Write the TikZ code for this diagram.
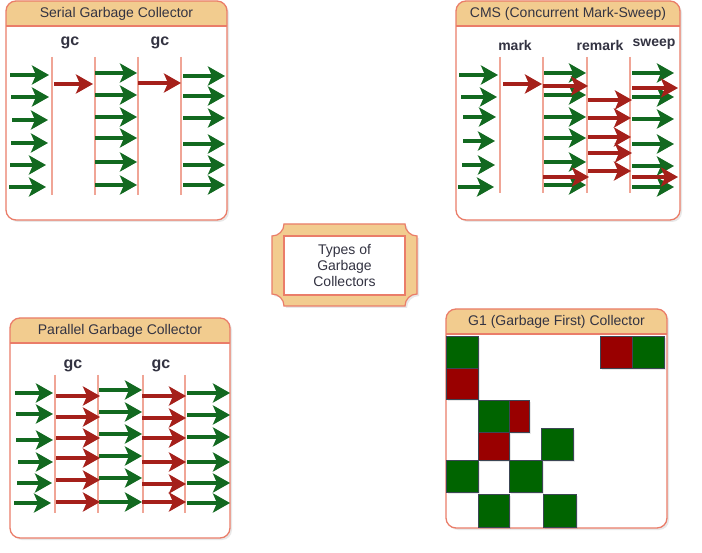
\documentclass[tikz,border=0pt]{standalone}
\usepackage{fontspec}
\setmainfont{Liberation Sans}
\usetikzlibrary{arrows.meta,shadows}

\definecolor{hdrfill}{RGB}{242,204,143}
\definecolor{boxline}{RGB}{234,125,105}
\definecolor{laneline}{RGB}{240,165,150}
\definecolor{livegreen}{RGB}{18,105,32}
\definecolor{deadred}{RGB}{165,32,26}
\definecolor{blockgreen}{RGB}{0,100,0}
\definecolor{blockred}{RGB}{153,0,0}
\definecolor{blockedge}{RGB}{60,70,85}
\definecolor{txtgray}{RGB}{51,51,66}

\begin{document}
\begin{tikzpicture}[x=1pt,y=-1pt,
  every node/.style={text=txtgray,font=\fontsize{14}{16}\selectfont},
  boxframe/.style={boxline,line width=1.3pt,rounded corners=10pt},
  softshadow/.style={drop shadow={shadow xshift=2pt,shadow yshift=-2pt,opacity=.18,fill=gray}},
  lane/.style={laneline,line width=1.5pt},
  live/.style={livegreen,line width=3.2pt,-{Stealth[length=17pt,width=19pt,inset=4pt]}},
  dead/.style={deadred,line width=3.2pt,-{Stealth[length=17pt,width=19pt,inset=4pt]}},
  phase/.style={font=\bfseries\fontsize{14}{16}\selectfont},
  gclabel/.style={font=\bfseries\fontsize{16}{18}\selectfont},
  region/.style={draw=blockedge,line width=0.8pt,softshadow}]
  \useasboundingbox (0,0) rectangle (702,553);

  % the four collector panels
  \foreach \nm/\xa/\ya/\xb/\yb/\ttl in {serial/6/1/227/220/{Serial Garbage Collector},
      cms/456/1/680/220/{CMS (Concurrent Mark-Sweep)},
      parallel/10/318/230/538/{Parallel Garbage Collector},
      gfirst/446/309/667/528/{G1 (Garbage First) Collector}} {
    \fill[white,rounded corners=10pt,softshadow] (\xa,\ya) rectangle (\xb,\yb);
    \fill[hdrfill] (\xa,\ya+25) -- (\xa,\ya+10) arc(180:270:10) -- (\xb-10,\ya)
      arc(270:360:10) -- (\xb,\ya+25) -- cycle;
    \draw[boxline,line width=1.3pt] (\xa,\ya+25) -- (\xb,\ya+25);
    \draw[boxframe] (\xa,\ya) rectangle (\xb,\yb);
    \node (\nm) at ({(\xa+\xb)/2},\ya+13) {\ttl};
  }

  % serial
  \foreach \x in {52,95,138,181}
    \draw[lane] (\x,57) -- (\x,195);
  \node[gclabel] (serial-gc1) at (70,43) {gc};
  \node[gclabel] (serial-gc2) at (160,43) {gc};
  \foreach \xa/\xb/\y in {10/49/75,11/49/97,12/48/120,11/48/143,10/46/165,9/46/187,
      95/137/73,95/137/95,95/137/117,95/137/138,95/137/162,95/137/185,
      183/225/76,183/225/96,183/225/118,183/225/144,183/225/165,183/225/185}
    \draw[live] (\xa,\y) -- (\xb,\y);
  \draw[dead] (54,84) -- (93,84);
  \draw[dead] (138,83) -- (181,83);

  % concurrent mark-sweep
  \foreach \x in {500,543,587,630}
    \draw[lane] (\x,57) -- (\x,193);
  \node[phase] (cms-mark) at (515,45) {mark};
  \node[phase] (cms-remark) at (600,45) {remark};
  \node[phase] (cms-sweep) at (654,44) {sweep};
  \foreach \xa/\xb/\y in {459/498/75,461/497/97,463/496/117,463/495/141,462/495/165,458/494/187,
      544/586/73,544/586/95,544/586/117,544/586/138,544/586/162,544/586/185,
      632/674/73,632/674/97,632/674/119,632/674/144,632/674/166,632/674/187}
    \draw[live] (\xa,\y) -- (\xb,\y);
  \foreach \xa/\xb/\y in {503/542/84,543/588/86,543/589/177,
      588/632/100,588/631/118,588/631/137,588/632/153,588/631/171,
      632/678/88,632/678/177}
    \draw[dead] (\xa,\y) -- (\xb,\y);

  % parallel
  \foreach \x in {55,98,143,185}
    \draw[lane] (\x,375) -- (\x,513);
  \node[gclabel] (parallel-gc1) at (73,366) {gc};
  \node[gclabel] (parallel-gc2) at (161,366) {gc};
  \foreach \xa/\xb/\y in {15/53/393,16/53/414,16/53/440,18/53/462,17/52/483,14/51/503,
      99/142/390,99/142/412,99/142/434,99/142/456,99/142/478,99/142/502,
      187/230/393,187/230/415,187/230/437,187/230/462,187/230/483,187/230/503}
    \draw[live] (\xa,\y) -- (\xb,\y);
  \foreach \xa/\xb/\y in {56/100/396,56/100/417,56/100/438,56/100/458,56/100/480,56/100/502,
      142/186/396,142/186/418,142/186/438,142/186/462,142/186/484,142/186/502}
    \draw[dead] (\xa,\y) -- (\xb,\y);

  % garbage first regions
  \foreach \xa/\ya/\xb/\yb/\c in {446/336/478/368/blockgreen,446/368/478/399/blockred,
      478/400/509/432/blockgreen,509/400/529/432/blockred,478/432/509/460/blockred,
      541/428/573/460/blockgreen,446/460/478/492/blockgreen,509/460/542/492/blockgreen,
      478/494/509/527/blockgreen,543/494/576/527/blockgreen,
      600/336/632/368/blockred,632/336/664/368/blockgreen}
    \draw[region,fill=\c] (\xa,\ya) rectangle (\xb,\yb);

  % centre plaque
  \draw[boxline,line width=1.2pt,fill=hdrfill,softshadow] (284,224) -- (405,224) arc(180:90:12)
    -- (417,294) arc(-90:-180:12) -- (284,306) arc(0:-90:12)
    -- (272,236) arc(90:0:12) -- cycle;
  \draw[boxline,line width=1.2pt,fill=white] (284,236) rectangle (405,295);
  \node[align=center] (types) at (344.5,266) {Types of\\Garbage\\Collectors};
\end{tikzpicture}
\end{document}
